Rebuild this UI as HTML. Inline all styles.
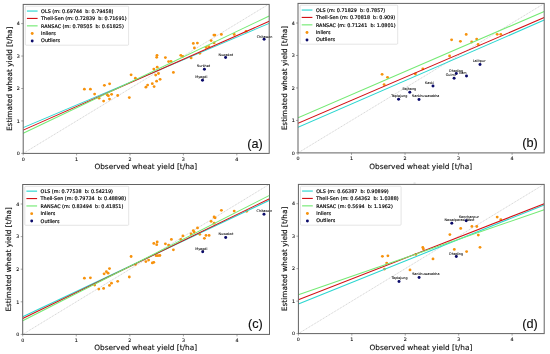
<!DOCTYPE html><html><head><meta charset="utf-8"><title>Wheat yield regression</title>
<style>html,body{margin:0;padding:0;background:#fff}svg{display:block}text{font-family:"DejaVu Sans","Liberation Sans",sans-serif}.tk{font-size:4.8px;fill:#111;stroke:#111;stroke-width:.1px}.al{font-size:7.35px;fill:#111;stroke:#111;stroke-width:.13px}.lg{font-size:4.87px;fill:#000;stroke:#000;stroke-width:.16px}.an{font-size:3.35px;fill:#0a0a0a;stroke:#0a0a0a;stroke-width:.07px}.pl{font-size:12.7px;fill:#111;stroke:#111;stroke-width:.15px;font-family:"Liberation Sans",sans-serif}</style></head><body>
<svg width="550" height="354" viewBox="0 0 550 354">
<rect width="550" height="354" fill="#fff"/>
<g id="panel-a">
<clipPath id="clip-a"><rect x="23.20" y="4.40" width="246.00" height="149.00"/></clipPath>
<g clip-path="url(#clip-a)">
<line x1="23.20" y1="153.40" x2="269.20" y2="3.91" stroke="#b8b8b8" stroke-width="0.65" stroke-dasharray="1 0.8"/>
<circle cx="84.4" cy="89.2" r="1.42" fill="#f7920c"/>
<circle cx="90.4" cy="89.2" r="1.42" fill="#f7920c"/>
<circle cx="94.6" cy="94.1" r="1.42" fill="#f7920c"/>
<circle cx="99.1" cy="98.2" r="1.42" fill="#f7920c"/>
<circle cx="104.4" cy="85.3" r="1.42" fill="#f7920c"/>
<circle cx="109.6" cy="83.8" r="1.42" fill="#f7920c"/>
<circle cx="103.6" cy="101.1" r="1.42" fill="#f7920c"/>
<circle cx="107.3" cy="94.9" r="1.42" fill="#f7920c"/>
<circle cx="108.4" cy="95.8" r="1.42" fill="#f7920c"/>
<circle cx="111.6" cy="94.3" r="1.42" fill="#f7920c"/>
<circle cx="109.5" cy="99.1" r="1.42" fill="#f7920c"/>
<circle cx="117.7" cy="95.5" r="1.42" fill="#f7920c"/>
<circle cx="129.3" cy="97.6" r="1.42" fill="#f7920c"/>
<circle cx="131.1" cy="74.8" r="1.42" fill="#f7920c"/>
<circle cx="135.4" cy="78.2" r="1.42" fill="#f7920c"/>
<circle cx="157.0" cy="55.3" r="1.42" fill="#f7920c"/>
<circle cx="156.7" cy="57.3" r="1.42" fill="#f7920c"/>
<circle cx="165.4" cy="57.6" r="1.42" fill="#f7920c"/>
<circle cx="153.8" cy="69.1" r="1.42" fill="#f7920c"/>
<circle cx="157.2" cy="67.2" r="1.42" fill="#f7920c"/>
<circle cx="155.7" cy="75.1" r="1.42" fill="#f7920c"/>
<circle cx="158.5" cy="73.5" r="1.42" fill="#f7920c"/>
<circle cx="160.1" cy="79.3" r="1.42" fill="#f7920c"/>
<circle cx="156.6" cy="81.2" r="1.42" fill="#f7920c"/>
<circle cx="152.3" cy="83.7" r="1.42" fill="#f7920c"/>
<circle cx="154.1" cy="86.6" r="1.42" fill="#f7920c"/>
<circle cx="147.6" cy="85.1" r="1.42" fill="#f7920c"/>
<circle cx="145.9" cy="87.2" r="1.42" fill="#f7920c"/>
<circle cx="168.6" cy="61.6" r="1.42" fill="#f7920c"/>
<circle cx="171.0" cy="61.3" r="1.42" fill="#f7920c"/>
<circle cx="173.4" cy="72.4" r="1.42" fill="#f7920c"/>
<circle cx="180.8" cy="55.3" r="1.42" fill="#f7920c"/>
<circle cx="182.7" cy="56.3" r="1.42" fill="#f7920c"/>
<circle cx="191.1" cy="57.9" r="1.42" fill="#f7920c"/>
<circle cx="193.3" cy="43.4" r="1.42" fill="#f7920c"/>
<circle cx="197.4" cy="43.1" r="1.42" fill="#f7920c"/>
<circle cx="194.4" cy="47.9" r="1.42" fill="#f7920c"/>
<circle cx="199.8" cy="53.3" r="1.42" fill="#f7920c"/>
<circle cx="206.1" cy="47.4" r="1.42" fill="#f7920c"/>
<circle cx="208.8" cy="46.6" r="1.42" fill="#f7920c"/>
<circle cx="211.1" cy="40.6" r="1.42" fill="#f7920c"/>
<circle cx="214.1" cy="42.9" r="1.42" fill="#f7920c"/>
<circle cx="213.9" cy="35.1" r="1.42" fill="#f7920c"/>
<circle cx="214.9" cy="35.1" r="1.42" fill="#f7920c"/>
<circle cx="221.4" cy="34.4" r="1.42" fill="#f7920c"/>
<circle cx="234.2" cy="34.4" r="1.42" fill="#f7920c"/>
<circle cx="246.1" cy="31.3" r="1.42" fill="#f7920c"/>
<line x1="23.20" y1="127.62" x2="269.20" y2="23.36" stroke="#2ad6d0" stroke-width="1.05"/>
<line x1="23.20" y1="130.14" x2="269.20" y2="21.25" stroke="#d31016" stroke-width="1.05"/>
<line x1="23.20" y1="133.34" x2="269.20" y2="15.98" stroke="#74ea74" stroke-width="1.05"/>
<circle cx="264.1" cy="39.3" r="1.48" fill="#0a0a6a"/>
<circle cx="225.6" cy="57.5" r="1.48" fill="#0a0a6a"/>
<circle cx="204.4" cy="69.3" r="1.48" fill="#0a0a6a"/>
<circle cx="202.5" cy="80.2" r="1.48" fill="#0a0a6a"/>
</g>
<text class="an" x="264.6" y="37.7" text-anchor="middle">Chitawan</text>
<text class="an" x="225.7" y="55.5" text-anchor="middle">Nuwakot</text>
<text class="an" x="203.6" y="67.4" text-anchor="middle">Surkhet</text>
<text class="an" x="201.3" y="78.2" text-anchor="middle">Myagdi</text>
<rect x="23.20" y="4.40" width="246.00" height="149.00" fill="none" stroke="#626262" stroke-width="1"/>
<line x1="23.20" y1="153.40" x2="23.20" y2="155.40" stroke="#626262" stroke-width="0.55"/>
<text class="tk" x="23.20" y="160.60" text-anchor="middle">0</text>
<line x1="21.20" y1="153.40" x2="23.20" y2="153.40" stroke="#626262" stroke-width="0.55"/>
<text class="tk" x="19.90" y="155.15" text-anchor="end">0</text>
<line x1="76.60" y1="153.40" x2="76.60" y2="155.40" stroke="#626262" stroke-width="0.55"/>
<text class="tk" x="76.60" y="160.60" text-anchor="middle">1</text>
<line x1="21.20" y1="120.95" x2="23.20" y2="120.95" stroke="#626262" stroke-width="0.55"/>
<text class="tk" x="19.90" y="122.70" text-anchor="end">1</text>
<line x1="130.00" y1="153.40" x2="130.00" y2="155.40" stroke="#626262" stroke-width="0.55"/>
<text class="tk" x="130.00" y="160.60" text-anchor="middle">2</text>
<line x1="21.20" y1="88.50" x2="23.20" y2="88.50" stroke="#626262" stroke-width="0.55"/>
<text class="tk" x="19.90" y="90.25" text-anchor="end">2</text>
<line x1="183.40" y1="153.40" x2="183.40" y2="155.40" stroke="#626262" stroke-width="0.55"/>
<text class="tk" x="183.40" y="160.60" text-anchor="middle">3</text>
<line x1="21.20" y1="56.05" x2="23.20" y2="56.05" stroke="#626262" stroke-width="0.55"/>
<text class="tk" x="19.90" y="57.80" text-anchor="end">3</text>
<line x1="236.80" y1="153.40" x2="236.80" y2="155.40" stroke="#626262" stroke-width="0.55"/>
<text class="tk" x="236.80" y="160.60" text-anchor="middle">4</text>
<line x1="21.20" y1="23.60" x2="23.20" y2="23.60" stroke="#626262" stroke-width="0.55"/>
<text class="tk" x="19.90" y="25.35" text-anchor="end">4</text>
<text class="al" x="145.80" y="169.40" text-anchor="middle">Observed wheat yield [t/ha]</text>
<text class="al" transform="translate(11.90 78.80) rotate(-90)" text-anchor="middle">Estimated wheat yield [t/ha]</text>
<rect x="25.30" y="6.20" width="103.30" height="39.0" rx="0.9" fill="#fff" fill-opacity="0.8" stroke="#cfcfcf" stroke-width="0.55"/>
<line x1="26.90" y1="11.05" x2="37.60" y2="11.05" stroke="#2ad6d0" stroke-width="1.15"/>
<text class="lg" x="41.10" y="12.80">OLS (m: 0.69744  b: 0.79458)</text>
<line x1="26.90" y1="18.45" x2="37.60" y2="18.45" stroke="#d31016" stroke-width="1.15"/>
<text class="lg" x="41.10" y="20.20">Theil-Sen (m: 0.72839  b: 0.71691)</text>
<line x1="26.90" y1="25.85" x2="37.60" y2="25.85" stroke="#74ea74" stroke-width="1.15"/>
<text class="lg" x="41.10" y="27.60">RANSAC (m: 0.78505  b: 0.61825)</text>
<circle cx="32.20" cy="33.55" r="1.45" fill="#f7920c"/>
<text class="lg" x="41.10" y="35.00">Inliers</text>
<circle cx="32.20" cy="40.95" r="1.45" fill="#0a0a6a"/>
<text class="lg" x="41.10" y="42.40">Outliers</text>
<text class="pl" x="255.10" y="147.70" text-anchor="middle">(a)</text>
</g>
<g id="panel-b">
<clipPath id="clip-b"><rect x="298.00" y="3.40" width="246.20" height="149.50"/></clipPath>
<g clip-path="url(#clip-b)">
<line x1="298.00" y1="152.90" x2="544.20" y2="3.52" stroke="#b8b8b8" stroke-width="0.65" stroke-dasharray="1 0.8"/>
<circle cx="382.1" cy="74.3" r="1.42" fill="#f7920c"/>
<circle cx="387.5" cy="77.3" r="1.42" fill="#f7920c"/>
<circle cx="384.1" cy="84.6" r="1.42" fill="#f7920c"/>
<circle cx="415.4" cy="74.0" r="1.42" fill="#f7920c"/>
<circle cx="422.8" cy="68.9" r="1.42" fill="#f7920c"/>
<circle cx="449.6" cy="56.0" r="1.42" fill="#f7920c"/>
<circle cx="451.6" cy="39.8" r="1.42" fill="#f7920c"/>
<circle cx="460.4" cy="41.3" r="1.42" fill="#f7920c"/>
<circle cx="466.2" cy="34.4" r="1.42" fill="#f7920c"/>
<circle cx="471.7" cy="42.0" r="1.42" fill="#f7920c"/>
<circle cx="476.7" cy="39.1" r="1.42" fill="#f7920c"/>
<circle cx="478.1" cy="44.5" r="1.42" fill="#f7920c"/>
<circle cx="497.2" cy="34.3" r="1.42" fill="#f7920c"/>
<circle cx="500.8" cy="34.3" r="1.42" fill="#f7920c"/>
<line x1="298.00" y1="127.38" x2="544.20" y2="20.09" stroke="#2ad6d0" stroke-width="1.05"/>
<line x1="298.00" y1="123.38" x2="544.20" y2="17.60" stroke="#d31016" stroke-width="1.05"/>
<line x1="298.00" y1="117.82" x2="544.20" y2="11.41" stroke="#74ea74" stroke-width="1.05"/>
<circle cx="433.0" cy="85.9" r="1.48" fill="#0a0a6a"/>
<circle cx="409.8" cy="92.3" r="1.48" fill="#0a0a6a"/>
<circle cx="398.6" cy="99.3" r="1.48" fill="#0a0a6a"/>
<circle cx="419.0" cy="99.6" r="1.48" fill="#0a0a6a"/>
<circle cx="480.0" cy="64.4" r="1.48" fill="#0a0a6a"/>
<circle cx="456.3" cy="73.5" r="1.48" fill="#0a0a6a"/>
<circle cx="466.5" cy="75.9" r="1.48" fill="#0a0a6a"/>
<circle cx="454.1" cy="78.3" r="1.48" fill="#0a0a6a"/>
</g>
<text class="an" x="429.5" y="83.7" text-anchor="middle">Kaski</text>
<text class="an" x="409.3" y="90.0" text-anchor="middle">Bajhang</text>
<text class="an" x="399.3" y="96.8" text-anchor="middle">Taplejung</text>
<text class="an" x="425.7" y="97.4" text-anchor="middle">Sankhuwasabha</text>
<text class="an" x="479.0" y="62.4" text-anchor="middle">Lalitpur</text>
<text class="an" x="456.1" y="71.5" text-anchor="middle">Dhading</text>
<text class="an" x="462.9" y="73.9" text-anchor="middle">Ilam</text>
<text class="an" x="450.7" y="76.1" text-anchor="middle">Gulmi</text>
<rect x="298.00" y="3.40" width="246.20" height="149.50" fill="none" stroke="#626262" stroke-width="1"/>
<line x1="298.00" y1="152.90" x2="298.00" y2="154.90" stroke="#626262" stroke-width="0.55"/>
<text class="tk" x="298.00" y="160.10" text-anchor="middle">0</text>
<line x1="296.00" y1="152.90" x2="298.00" y2="152.90" stroke="#626262" stroke-width="0.55"/>
<text class="tk" x="294.70" y="154.65" text-anchor="end">0</text>
<line x1="351.52" y1="152.90" x2="351.52" y2="154.90" stroke="#626262" stroke-width="0.55"/>
<text class="tk" x="351.52" y="160.10" text-anchor="middle">1</text>
<line x1="296.00" y1="120.43" x2="298.00" y2="120.43" stroke="#626262" stroke-width="0.55"/>
<text class="tk" x="294.70" y="122.18" text-anchor="end">1</text>
<line x1="405.05" y1="152.90" x2="405.05" y2="154.90" stroke="#626262" stroke-width="0.55"/>
<text class="tk" x="405.05" y="160.10" text-anchor="middle">2</text>
<line x1="296.00" y1="87.95" x2="298.00" y2="87.95" stroke="#626262" stroke-width="0.55"/>
<text class="tk" x="294.70" y="89.70" text-anchor="end">2</text>
<line x1="458.58" y1="152.90" x2="458.58" y2="154.90" stroke="#626262" stroke-width="0.55"/>
<text class="tk" x="458.58" y="160.10" text-anchor="middle">3</text>
<line x1="296.00" y1="55.47" x2="298.00" y2="55.47" stroke="#626262" stroke-width="0.55"/>
<text class="tk" x="294.70" y="57.22" text-anchor="end">3</text>
<line x1="512.10" y1="152.90" x2="512.10" y2="154.90" stroke="#626262" stroke-width="0.55"/>
<text class="tk" x="512.10" y="160.10" text-anchor="middle">4</text>
<line x1="296.00" y1="23.00" x2="298.00" y2="23.00" stroke="#626262" stroke-width="0.55"/>
<text class="tk" x="294.70" y="24.75" text-anchor="end">4</text>
<text class="al" x="420.70" y="168.90" text-anchor="middle">Observed wheat yield [t/ha]</text>
<text class="al" transform="translate(286.70 78.05) rotate(-90)" text-anchor="middle">Estimated wheat yield [t/ha]</text>
<rect x="300.10" y="5.20" width="97.60" height="39.0" rx="0.9" fill="#fff" fill-opacity="0.8" stroke="#cfcfcf" stroke-width="0.55"/>
<line x1="301.70" y1="10.05" x2="312.40" y2="10.05" stroke="#2ad6d0" stroke-width="1.15"/>
<text class="lg" x="315.90" y="11.80">OLS (m: 0.71829  b: 0.7857)</text>
<line x1="301.70" y1="17.45" x2="312.40" y2="17.45" stroke="#d31016" stroke-width="1.15"/>
<text class="lg" x="315.90" y="19.20">Theil-Sen (m: 0.70818  b: 0.909)</text>
<line x1="301.70" y1="24.85" x2="312.40" y2="24.85" stroke="#74ea74" stroke-width="1.15"/>
<text class="lg" x="315.90" y="26.60">RANSAC (m: 0.71241  b: 1.0801)</text>
<circle cx="307.00" cy="32.55" r="1.45" fill="#f7920c"/>
<text class="lg" x="315.90" y="34.00">Inliers</text>
<circle cx="307.00" cy="39.95" r="1.45" fill="#0a0a6a"/>
<text class="lg" x="315.90" y="41.40">Outliers</text>
<text class="pl" x="530.10" y="146.95" text-anchor="middle">(b)</text>
</g>
<g id="panel-c">
<clipPath id="clip-c"><rect x="22.70" y="184.50" width="246.80" height="149.90"/></clipPath>
<g clip-path="url(#clip-c)">
<line x1="22.70" y1="334.40" x2="269.50" y2="184.22" stroke="#b8b8b8" stroke-width="0.65" stroke-dasharray="1 0.8"/>
<circle cx="84.4" cy="278.2" r="1.42" fill="#f7920c"/>
<circle cx="90.4" cy="277.8" r="1.42" fill="#f7920c"/>
<circle cx="94.7" cy="285.1" r="1.42" fill="#f7920c"/>
<circle cx="98.8" cy="289.1" r="1.42" fill="#f7920c"/>
<circle cx="103.6" cy="288.4" r="1.42" fill="#f7920c"/>
<circle cx="104.1" cy="273.8" r="1.42" fill="#f7920c"/>
<circle cx="106.4" cy="271.7" r="1.42" fill="#f7920c"/>
<circle cx="108.1" cy="273.2" r="1.42" fill="#f7920c"/>
<circle cx="109.5" cy="268.6" r="1.42" fill="#f7920c"/>
<circle cx="109.5" cy="285.4" r="1.42" fill="#f7920c"/>
<circle cx="111.5" cy="283.2" r="1.42" fill="#f7920c"/>
<circle cx="117.7" cy="281.3" r="1.42" fill="#f7920c"/>
<circle cx="129.3" cy="277.0" r="1.42" fill="#f7920c"/>
<circle cx="131.1" cy="256.5" r="1.42" fill="#f7920c"/>
<circle cx="135.4" cy="264.4" r="1.42" fill="#f7920c"/>
<circle cx="145.9" cy="261.6" r="1.42" fill="#f7920c"/>
<circle cx="148.6" cy="260.1" r="1.42" fill="#f7920c"/>
<circle cx="152.3" cy="262.9" r="1.42" fill="#f7920c"/>
<circle cx="153.8" cy="262.3" r="1.42" fill="#f7920c"/>
<circle cx="153.8" cy="243.4" r="1.42" fill="#f7920c"/>
<circle cx="157.2" cy="241.9" r="1.42" fill="#f7920c"/>
<circle cx="156.7" cy="244.7" r="1.42" fill="#f7920c"/>
<circle cx="156.1" cy="255.7" r="1.42" fill="#f7920c"/>
<circle cx="157.9" cy="255.7" r="1.42" fill="#f7920c"/>
<circle cx="159.9" cy="255.5" r="1.42" fill="#f7920c"/>
<circle cx="165.4" cy="243.8" r="1.42" fill="#f7920c"/>
<circle cx="168.6" cy="245.1" r="1.42" fill="#f7920c"/>
<circle cx="171.4" cy="239.4" r="1.42" fill="#f7920c"/>
<circle cx="173.4" cy="249.8" r="1.42" fill="#f7920c"/>
<circle cx="180.8" cy="239.4" r="1.42" fill="#f7920c"/>
<circle cx="182.9" cy="235.9" r="1.42" fill="#f7920c"/>
<circle cx="191.1" cy="233.8" r="1.42" fill="#f7920c"/>
<circle cx="193.3" cy="230.6" r="1.42" fill="#f7920c"/>
<circle cx="194.2" cy="232.1" r="1.42" fill="#f7920c"/>
<circle cx="197.5" cy="227.9" r="1.42" fill="#f7920c"/>
<circle cx="199.8" cy="234.3" r="1.42" fill="#f7920c"/>
<circle cx="204.4" cy="238.3" r="1.42" fill="#f7920c"/>
<circle cx="206.0" cy="235.4" r="1.42" fill="#f7920c"/>
<circle cx="209.1" cy="235.4" r="1.42" fill="#f7920c"/>
<circle cx="211.1" cy="221.3" r="1.42" fill="#f7920c"/>
<circle cx="214.1" cy="223.2" r="1.42" fill="#f7920c"/>
<circle cx="214.1" cy="217.0" r="1.42" fill="#f7920c"/>
<circle cx="215.1" cy="217.8" r="1.42" fill="#f7920c"/>
<circle cx="221.4" cy="210.3" r="1.42" fill="#f7920c"/>
<circle cx="234.2" cy="211.1" r="1.42" fill="#f7920c"/>
<circle cx="246.7" cy="211.3" r="1.42" fill="#f7920c"/>
<line x1="22.70" y1="316.72" x2="269.50" y2="200.28" stroke="#2ad6d0" stroke-width="1.05"/>
<line x1="22.70" y1="318.46" x2="269.50" y2="198.72" stroke="#d31016" stroke-width="1.05"/>
<line x1="22.70" y1="320.76" x2="269.50" y2="195.37" stroke="#74ea74" stroke-width="1.05"/>
<circle cx="264.0" cy="214.2" r="1.48" fill="#0a0a6a"/>
<circle cx="225.7" cy="237.4" r="1.48" fill="#0a0a6a"/>
<circle cx="202.7" cy="251.7" r="1.48" fill="#0a0a6a"/>
</g>
<text class="an" x="264.4" y="212.0" text-anchor="middle">Chitawan</text>
<text class="an" x="225.9" y="235.4" text-anchor="middle">Nuwakot</text>
<text class="an" x="201.3" y="249.7" text-anchor="middle">Myagdi</text>
<rect x="22.70" y="184.50" width="246.80" height="149.90" fill="none" stroke="#626262" stroke-width="1"/>
<line x1="22.70" y1="334.40" x2="22.70" y2="336.40" stroke="#626262" stroke-width="0.55"/>
<text class="tk" x="22.70" y="341.60" text-anchor="middle">0</text>
<line x1="20.70" y1="334.40" x2="22.70" y2="334.40" stroke="#626262" stroke-width="0.55"/>
<text class="tk" x="19.40" y="336.15" text-anchor="end">0</text>
<line x1="76.28" y1="334.40" x2="76.28" y2="336.40" stroke="#626262" stroke-width="0.55"/>
<text class="tk" x="76.28" y="341.60" text-anchor="middle">1</text>
<line x1="20.70" y1="301.80" x2="22.70" y2="301.80" stroke="#626262" stroke-width="0.55"/>
<text class="tk" x="19.40" y="303.55" text-anchor="end">1</text>
<line x1="129.85" y1="334.40" x2="129.85" y2="336.40" stroke="#626262" stroke-width="0.55"/>
<text class="tk" x="129.85" y="341.60" text-anchor="middle">2</text>
<line x1="20.70" y1="269.20" x2="22.70" y2="269.20" stroke="#626262" stroke-width="0.55"/>
<text class="tk" x="19.40" y="270.95" text-anchor="end">2</text>
<line x1="183.43" y1="334.40" x2="183.43" y2="336.40" stroke="#626262" stroke-width="0.55"/>
<text class="tk" x="183.43" y="341.60" text-anchor="middle">3</text>
<line x1="20.70" y1="236.60" x2="22.70" y2="236.60" stroke="#626262" stroke-width="0.55"/>
<text class="tk" x="19.40" y="238.35" text-anchor="end">3</text>
<line x1="237.00" y1="334.40" x2="237.00" y2="336.40" stroke="#626262" stroke-width="0.55"/>
<text class="tk" x="237.00" y="341.60" text-anchor="middle">4</text>
<line x1="20.70" y1="204.00" x2="22.70" y2="204.00" stroke="#626262" stroke-width="0.55"/>
<text class="tk" x="19.40" y="205.75" text-anchor="end">4</text>
<text class="al" x="145.70" y="350.40" text-anchor="middle">Observed wheat yield [t/ha]</text>
<text class="al" transform="translate(11.40 259.35) rotate(-90)" text-anchor="middle">Estimated wheat yield [t/ha]</text>
<rect x="24.80" y="186.30" width="103.90" height="39.0" rx="0.9" fill="#fff" fill-opacity="0.8" stroke="#cfcfcf" stroke-width="0.55"/>
<line x1="26.40" y1="191.15" x2="37.10" y2="191.15" stroke="#2ad6d0" stroke-width="1.15"/>
<text class="lg" x="40.60" y="192.90">OLS (m: 0.77538  b: 0.54219)</text>
<line x1="26.40" y1="198.55" x2="37.10" y2="198.55" stroke="#d31016" stroke-width="1.15"/>
<text class="lg" x="40.60" y="200.30">Theil-Sen (m: 0.79734  b: 0.48898)</text>
<line x1="26.40" y1="205.95" x2="37.10" y2="205.95" stroke="#74ea74" stroke-width="1.15"/>
<text class="lg" x="40.60" y="207.70">RANSAC (m: 0.83494  b: 0.41851)</text>
<circle cx="31.70" cy="213.65" r="1.45" fill="#f7920c"/>
<text class="lg" x="40.60" y="215.10">Inliers</text>
<circle cx="31.70" cy="221.05" r="1.45" fill="#0a0a6a"/>
<text class="lg" x="40.60" y="222.50">Outliers</text>
<text class="pl" x="255.40" y="328.20" text-anchor="middle">(c)</text>
</g>
<g id="panel-d">
<clipPath id="clip-d"><rect x="298.40" y="184.40" width="245.80" height="149.20"/></clipPath>
<g clip-path="url(#clip-d)">
<line x1="298.40" y1="333.60" x2="544.20" y2="184.19" stroke="#b8b8b8" stroke-width="0.65" stroke-dasharray="1 0.8"/>
<circle cx="382.4" cy="256.3" r="1.42" fill="#f7920c"/>
<circle cx="387.9" cy="255.8" r="1.42" fill="#f7920c"/>
<circle cx="386.7" cy="263.1" r="1.42" fill="#f7920c"/>
<circle cx="384.5" cy="269.1" r="1.42" fill="#f7920c"/>
<circle cx="410.0" cy="269.9" r="1.42" fill="#f7920c"/>
<circle cx="415.8" cy="254.4" r="1.42" fill="#f7920c"/>
<circle cx="422.8" cy="247.5" r="1.42" fill="#f7920c"/>
<circle cx="423.4" cy="249.0" r="1.42" fill="#f7920c"/>
<circle cx="433.0" cy="258.9" r="1.42" fill="#f7920c"/>
<circle cx="449.9" cy="234.6" r="1.42" fill="#f7920c"/>
<circle cx="460.7" cy="228.4" r="1.42" fill="#f7920c"/>
<circle cx="471.9" cy="226.4" r="1.42" fill="#f7920c"/>
<circle cx="476.8" cy="226.5" r="1.42" fill="#f7920c"/>
<circle cx="478.3" cy="235.1" r="1.42" fill="#f7920c"/>
<circle cx="497.2" cy="217.1" r="1.42" fill="#f7920c"/>
<circle cx="500.8" cy="219.7" r="1.42" fill="#f7920c"/>
<circle cx="454.3" cy="249.4" r="1.42" fill="#f7920c"/>
<circle cx="466.6" cy="251.6" r="1.42" fill="#f7920c"/>
<circle cx="480.0" cy="247.3" r="1.42" fill="#f7920c"/>
<line x1="298.40" y1="304.08" x2="544.20" y2="204.89" stroke="#2ad6d0" stroke-width="1.05"/>
<line x1="298.40" y1="299.86" x2="544.20" y2="203.70" stroke="#d31016" stroke-width="1.05"/>
<line x1="298.40" y1="294.75" x2="544.20" y2="209.68" stroke="#74ea74" stroke-width="1.05"/>
<circle cx="451.8" cy="223.2" r="1.48" fill="#0a0a6a"/>
<circle cx="466.2" cy="220.8" r="1.48" fill="#0a0a6a"/>
<circle cx="456.3" cy="256.6" r="1.48" fill="#0a0a6a"/>
<circle cx="399.0" cy="281.6" r="1.48" fill="#0a0a6a"/>
<circle cx="419.1" cy="277.5" r="1.48" fill="#0a0a6a"/>
</g>
<text class="an" x="459.5" y="220.8" text-anchor="middle">Nawalparasi West</text>
<text class="an" x="468.9" y="218.2" text-anchor="middle">Kanchanpur</text>
<text class="an" x="456.1" y="254.7" text-anchor="middle">Dhading</text>
<text class="an" x="399.6" y="279.4" text-anchor="middle">Taplejung</text>
<text class="an" x="425.8" y="275.1" text-anchor="middle">Sankhuwasabha</text>
<rect x="298.40" y="184.40" width="245.80" height="149.20" fill="none" stroke="#626262" stroke-width="1"/>
<line x1="298.40" y1="333.60" x2="298.40" y2="335.60" stroke="#626262" stroke-width="0.55"/>
<text class="tk" x="298.40" y="340.80" text-anchor="middle">0</text>
<line x1="296.40" y1="333.60" x2="298.40" y2="333.60" stroke="#626262" stroke-width="0.55"/>
<text class="tk" x="295.10" y="335.35" text-anchor="end">0</text>
<line x1="351.82" y1="333.60" x2="351.82" y2="335.60" stroke="#626262" stroke-width="0.55"/>
<text class="tk" x="351.82" y="340.80" text-anchor="middle">1</text>
<line x1="296.40" y1="301.12" x2="298.40" y2="301.12" stroke="#626262" stroke-width="0.55"/>
<text class="tk" x="295.10" y="302.88" text-anchor="end">1</text>
<line x1="405.25" y1="333.60" x2="405.25" y2="335.60" stroke="#626262" stroke-width="0.55"/>
<text class="tk" x="405.25" y="340.80" text-anchor="middle">2</text>
<line x1="296.40" y1="268.65" x2="298.40" y2="268.65" stroke="#626262" stroke-width="0.55"/>
<text class="tk" x="295.10" y="270.40" text-anchor="end">2</text>
<line x1="458.68" y1="333.60" x2="458.68" y2="335.60" stroke="#626262" stroke-width="0.55"/>
<text class="tk" x="458.68" y="340.80" text-anchor="middle">3</text>
<line x1="296.40" y1="236.18" x2="298.40" y2="236.18" stroke="#626262" stroke-width="0.55"/>
<text class="tk" x="295.10" y="237.93" text-anchor="end">3</text>
<line x1="512.10" y1="333.60" x2="512.10" y2="335.60" stroke="#626262" stroke-width="0.55"/>
<text class="tk" x="512.10" y="340.80" text-anchor="middle">4</text>
<line x1="296.40" y1="203.70" x2="298.40" y2="203.70" stroke="#626262" stroke-width="0.55"/>
<text class="tk" x="295.10" y="205.45" text-anchor="end">4</text>
<text class="al" x="420.90" y="349.60" text-anchor="middle">Observed wheat yield [t/ha]</text>
<text class="al" transform="translate(287.10 258.90) rotate(-90)" text-anchor="middle">Estimated wheat yield [t/ha]</text>
<rect x="300.50" y="186.20" width="100.60" height="39.0" rx="0.9" fill="#fff" fill-opacity="0.8" stroke="#cfcfcf" stroke-width="0.55"/>
<line x1="302.10" y1="191.05" x2="312.80" y2="191.05" stroke="#2ad6d0" stroke-width="1.15"/>
<text class="lg" x="316.30" y="192.80">OLS (m: 0.66387  b: 0.90899)</text>
<line x1="302.10" y1="198.45" x2="312.80" y2="198.45" stroke="#d31016" stroke-width="1.15"/>
<text class="lg" x="316.30" y="200.20">Theil-Sen (m: 0.64362  b: 1.0388)</text>
<line x1="302.10" y1="205.85" x2="312.80" y2="205.85" stroke="#74ea74" stroke-width="1.15"/>
<text class="lg" x="316.30" y="207.60">RANSAC (m: 0.5694  b: 1.1962)</text>
<circle cx="307.40" cy="213.55" r="1.45" fill="#f7920c"/>
<text class="lg" x="316.30" y="215.00">Inliers</text>
<circle cx="307.40" cy="220.95" r="1.45" fill="#0a0a6a"/>
<text class="lg" x="316.30" y="222.40">Outliers</text>
<text class="pl" x="530.10" y="328.20" text-anchor="middle">(d)</text>
</g>
<line x1="413.5" y1="183.1" x2="415.6" y2="183.1" stroke="#a8a8a8" stroke-width="0.5"/>
</svg></body></html>
